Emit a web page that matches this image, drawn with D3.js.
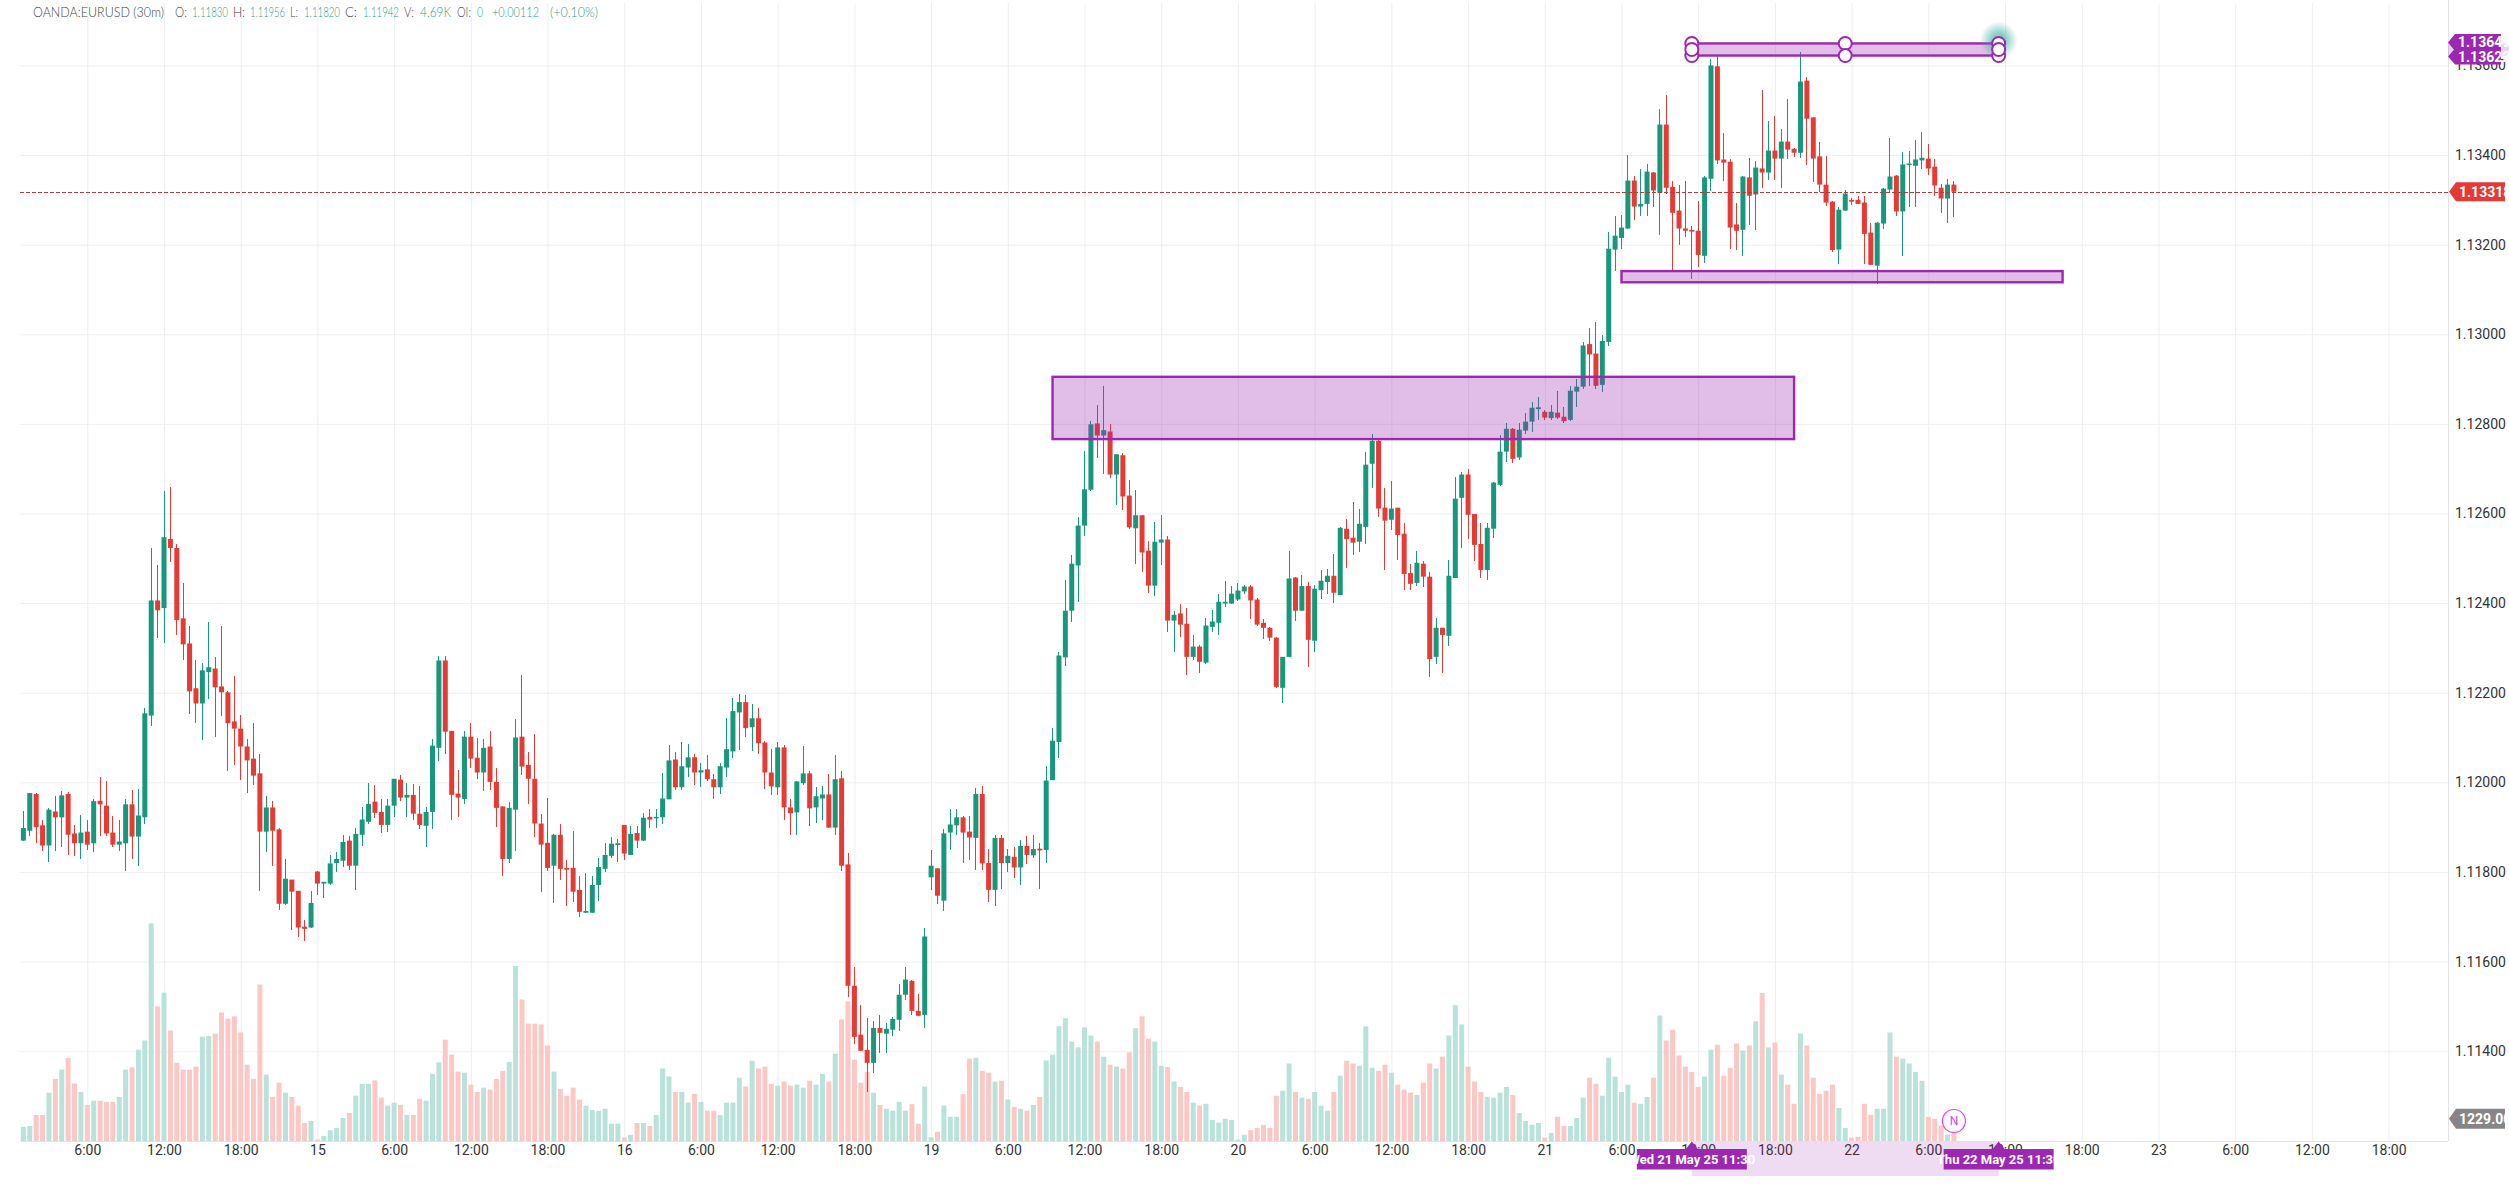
<!DOCTYPE html>
<html>
<head>
<meta charset="utf-8">
<script src="https://cdn.jsdelivr.net/npm/d3@7"></script>
<style>
  html, body { margin: 0; padding: 0; background: #fff; }
  svg { display: block; font-family: "Liberation Sans Narrow", Roboto, sans-serif; }
</style>
</head>
<body>
<svg id="chart" width="2509" height="1199"></svg>
<script>
// EURUSD 30m candles
var opens = [1.11870,1.11892,1.11974,1.11904,1.11859,1.11935,1.11922,1.11974,1.11886,1.11864,
1.11890,1.11864,1.11959,1.11948,1.11888,1.11861,1.11864,1.11951,1.11879,1.11922,
1.12149,1.12406,1.12389,1.12543,1.12523,1.12366,1.12310,1.12210,1.12176,1.12246,
1.12254,1.12214,1.12201,1.12136,1.12120,1.12080,1.12053,1.12020,1.11890,1.11944,
1.11895,1.11729,1.11783,1.11758,1.11678,1.11676,1.11801,1.11774,1.11774,1.11820,
1.11825,1.11870,1.11814,1.11883,1.11912,1.11957,1.11934,1.11905,1.11948,1.12006,
1.11966,1.11972,1.11930,1.11903,1.11934,1.12077,1.12272,1.12115,1.11975,1.11963,
1.12102,1.12055,1.12022,1.12080,1.12001,1.11946,1.11829,1.11939,1.12102,1.12039,
1.12008,1.11908,1.11865,1.11814,1.11883,1.11809,1.11809,1.11760,1.11709,1.11709,
1.11771,1.11807,1.11836,1.11860,1.11905,1.11838,1.11887,1.11870,1.11923,1.11920,
1.11922,1.11962,1.12051,1.11989,1.12033,1.12056,1.12022,1.12029,1.12007,1.11989,
1.12033,1.12069,1.12156,1.12179,1.12123,1.12143,1.12089,1.12022,1.11989,1.12078,
1.11944,1.11933,1.11998,1.12020,1.11944,1.11964,1.11973,1.11899,1.12009,1.11817,
1.11546,1.11437,1.11403,1.11374,1.11452,1.11439,1.11448,1.11470,1.11526,1.11557,
1.11490,1.11481,1.11788,1.11808,1.11736,1.11888,1.11904,1.11922,1.11890,1.11876,
1.11974,1.11820,1.11760,1.11876,1.11820,1.11834,1.11810,1.11858,1.11837,1.11852,
1.11849,1.12005,1.12090,1.12279,1.12383,1.12484,1.12573,1.12653,1.12801,1.12774,
1.12783,1.12687,1.12730,1.12640,1.12567,1.12596,1.12517,1.12439,1.12535,1.12542,
1.12361,1.12377,1.12354,1.12280,1.12303,1.12267,1.12347,1.12356,1.12399,1.12399,
1.12408,1.12426,1.12437,1.12408,1.12356,1.12345,1.12323,1.12211,1.12280,1.12457,
1.12383,1.12438,1.12316,1.12429,1.12447,1.12461,1.12418,1.12566,1.12546,1.12537,
1.12570,1.12711,1.12762,1.12613,1.12586,1.12613,1.12555,1.12467,1.12445,1.12488,
1.12459,1.12280,1.12345,1.12327,1.12456,1.12635,1.12687,1.12599,1.12532,1.12474,
1.12566,1.12664,1.12738,1.12789,1.12725,1.12785,1.12805,1.12833,1.12827,1.12813,
1.12825,1.12816,1.12809,1.12872,1.12883,1.12978,1.12957,1.12887,1.12983,1.13189,
1.13215,1.13236,1.13343,1.13285,1.13291,1.13361,1.13316,1.13468,1.13329,1.13276,
1.13236,1.13233,1.13231,1.13175,1.13347,1.13598,1.13390,1.13385,1.13245,1.13233,
1.13350,1.13312,1.13370,1.13361,1.13410,1.13392,1.13430,1.13414,1.13405,1.13566,
1.13484,1.13397,1.13334,1.13296,1.13189,1.13276,1.13300,1.13300,1.13294,1.13227,
1.13153,1.13247,1.13323,1.13354,1.13274,1.13378,1.13376,1.13388,1.13392,1.13374,
1.13327,1.13303,1.13334];

var highs = [1.11937,1.11976,1.11976,1.11915,1.11943,1.11970,1.11980,1.11978,1.11905,1.11927,
1.11915,1.11963,1.12012,1.12003,1.11926,1.11915,1.11963,1.11983,1.11986,1.12167,
1.12522,1.12486,1.12651,1.12660,1.12531,1.12445,1.12350,1.12274,1.12267,1.12357,
1.12280,1.12350,1.12204,1.12238,1.12151,1.12097,1.12133,1.12064,1.11969,1.11958,
1.11898,1.11829,1.11783,1.11758,1.11693,1.11758,1.11803,1.11778,1.11838,1.11844,
1.11882,1.11880,1.11899,1.11944,1.11998,1.11994,1.11962,1.11962,1.12008,1.12017,
1.11998,1.11996,1.11992,1.11946,1.12097,1.12282,1.12281,1.12115,1.12028,1.12115,
1.12133,1.12099,1.12097,1.12115,1.12032,1.11948,1.11956,1.12142,1.12240,1.12068,
1.12108,1.11929,1.11966,1.11885,1.11907,1.11826,1.11892,1.11791,1.11797,1.11791,
1.11832,1.11864,1.11877,1.11873,1.11905,1.11902,1.11902,1.11932,1.11940,1.11941,
1.12021,1.12084,1.12068,1.12089,1.12086,1.12064,1.12043,1.12060,1.12018,1.12043,
1.12144,1.12189,1.12197,1.12194,1.12174,1.12167,1.12092,1.12075,1.12090,1.12083,
1.11963,1.12002,1.12082,1.12025,1.11989,1.11992,1.12019,1.12060,1.12026,1.11842,
1.11587,1.11502,1.11475,1.11467,1.11481,1.11464,1.11477,1.11551,1.11587,1.11560,
1.11528,1.11674,1.11849,1.11809,1.11896,1.11941,1.11941,1.11925,1.11924,1.11987,
1.11991,1.11851,1.11883,1.11883,1.11851,1.11855,1.11872,1.11881,1.11882,1.11864,
1.12036,1.12122,1.12292,1.12452,1.12507,1.12592,1.12739,1.12806,1.12843,1.12884,
1.12800,1.12732,1.12735,1.12675,1.12653,1.12596,1.12538,1.12581,1.12597,1.12550,
1.12382,1.12398,1.12389,1.12329,1.12307,1.12367,1.12385,1.12420,1.12450,1.12438,
1.12445,1.12441,1.12441,1.12412,1.12365,1.12347,1.12324,1.12280,1.12516,1.12458,
1.12462,1.12448,1.12441,1.12473,1.12476,1.12509,1.12570,1.12587,1.12625,1.12610,
1.12737,1.12777,1.12764,1.12658,1.12672,1.12613,1.12578,1.12487,1.12516,1.12494,
1.12470,1.12366,1.12345,1.12496,1.12681,1.12692,1.12699,1.12599,1.12578,1.12578,
1.12671,1.12775,1.12803,1.12791,1.12801,1.12824,1.12849,1.12859,1.12831,1.12842,
1.12873,1.12838,1.12884,1.12900,1.12982,1.13014,1.13027,1.12999,1.13228,1.13265,
1.13267,1.13400,1.13353,1.13369,1.13380,1.13362,1.13503,1.13534,1.13342,1.13332,
1.13342,1.13241,1.13297,1.13353,1.13615,1.13622,1.13449,1.13390,1.13293,1.13353,
1.13394,1.13386,1.13546,1.13475,1.13487,1.13457,1.13525,1.13416,1.13630,1.13575,
1.13485,1.13429,1.13397,1.13297,1.13284,1.13322,1.13304,1.13308,1.13308,1.13248,
1.13250,1.13326,1.13437,1.13356,1.13407,1.13408,1.13434,1.13451,1.13425,1.13391,
1.13336,1.13347,1.13342];

var lows = [1.11870,1.11881,1.11864,1.11846,1.11822,1.11846,1.11855,1.11837,1.11835,1.11829,
1.11848,1.11844,1.11881,1.11880,1.11855,1.11846,1.11803,1.11829,1.11813,1.11907,
1.12126,1.12323,1.12312,1.12492,1.12329,1.12274,1.12153,1.12133,1.12095,1.12187,
1.12101,1.12149,1.12026,1.12039,1.12006,1.11977,1.11994,1.11758,1.11844,1.11813,
1.11715,1.11727,1.11670,1.11655,1.11647,1.11676,1.11749,1.11742,1.11771,1.11801,
1.11810,1.11804,1.11759,1.11858,1.11907,1.11920,1.11888,1.11890,1.11923,1.11958,
1.11922,1.11917,1.11895,1.11855,1.11895,1.12047,1.12063,1.11916,1.11923,1.11952,
1.12033,1.12007,1.11981,1.11983,1.11901,1.11792,1.11819,1.11846,1.12016,1.11952,
1.11877,1.11756,1.11803,1.11731,1.11782,1.11724,1.11732,1.11700,1.11709,1.11709,
1.11735,1.11801,1.11832,1.11823,1.11826,1.11838,1.11853,1.11870,1.11897,1.11899,
1.11908,1.11962,1.11984,1.11984,1.12012,1.11994,1.11989,1.12003,1.11963,1.11975,
1.12012,1.12055,1.12073,1.12101,1.12071,1.12064,1.11985,1.11972,1.11972,1.11916,
1.11883,1.11883,1.11994,1.11903,1.11910,1.11916,1.11899,1.11883,1.11803,1.11520,
1.11416,1.11401,1.11309,1.11352,1.11397,1.11396,1.11433,1.11446,1.11514,1.11480,
1.11479,1.11452,1.11760,1.11729,1.11713,1.11849,1.11883,1.11820,1.11827,1.11804,
1.11804,1.11732,1.11723,1.11761,1.11800,1.11787,1.11770,1.11817,1.11832,1.11761,
1.11819,1.12005,1.12055,1.12260,1.12358,1.12402,1.12549,1.12650,1.12724,1.12689,
1.12679,1.12619,1.12608,1.12565,1.12488,1.12469,1.12423,1.12416,1.12485,1.12335,
1.12290,1.12324,1.12239,1.12273,1.12245,1.12264,1.12335,1.12329,1.12392,1.12399,
1.12404,1.12420,1.12365,1.12350,1.12320,1.12315,1.12210,1.12178,1.12280,1.12361,
1.12383,1.12258,1.12292,1.12409,1.12421,1.12401,1.12418,1.12478,1.12507,1.12513,
1.12532,1.12658,1.12593,1.12475,1.12564,1.12497,1.12430,1.12430,1.12439,1.12436,
1.12234,1.12265,1.12245,1.12305,1.12455,1.12524,1.12544,1.12493,1.12455,1.12451,
1.12546,1.12661,1.12714,1.12712,1.12719,1.12777,1.12781,1.12809,1.12809,1.12809,
1.12810,1.12803,1.12806,1.12837,1.12877,1.12885,1.12877,1.12872,1.12974,1.13142,
1.13190,1.13236,1.13256,1.13265,1.13265,1.13285,1.13221,1.13313,1.13142,1.13199,
1.13218,1.13123,1.13149,1.13160,1.13319,1.13379,1.13341,1.13190,1.13188,1.13174,
1.13243,1.13232,1.13326,1.13344,1.13345,1.13326,1.13391,1.13396,1.13394,1.13378,
1.13339,1.13318,1.13286,1.13184,1.13157,1.13276,1.13288,1.13290,1.13157,1.13155,
1.13112,1.13236,1.13318,1.13263,1.13174,1.13285,1.13285,1.13369,1.13355,1.13309,
1.13271,1.13248,1.13262];

var closes = [1.11898,1.11976,1.11900,1.11859,1.11939,1.11922,1.11971,1.11883,1.11864,1.11888,
1.11861,1.11958,1.11951,1.11886,1.11861,1.11868,1.11951,1.11879,1.11926,1.12154,
1.12406,1.12384,1.12547,1.12523,1.12362,1.12308,1.12203,1.12176,1.12250,1.12257,
1.12212,1.12201,1.12132,1.12120,1.12080,1.12049,1.12015,1.11890,1.11944,1.11892,
1.11729,1.11785,1.11756,1.11676,1.11673,1.11731,1.11774,1.11778,1.11819,1.11829,
1.11867,1.11814,1.11885,1.11917,1.11952,1.11932,1.11905,1.11948,1.12008,1.11966,
1.11972,1.11930,1.11905,1.11934,1.12082,1.12272,1.12113,1.11972,1.11966,1.12102,
1.12053,1.12022,1.12077,1.12001,1.11943,1.11829,1.11943,1.12100,1.12035,1.12008,
1.11908,1.11861,1.11809,1.11883,1.11807,1.11805,1.11756,1.11711,1.11713,1.11771,
1.11811,1.11838,1.11863,1.11864,1.11841,1.11885,1.11870,1.11921,1.11917,1.11923,
1.11964,1.12049,1.11989,1.12036,1.12056,1.12022,1.12027,1.12007,1.11989,1.12036,
1.12074,1.12159,1.12179,1.12121,1.12143,1.12087,1.12022,1.11991,1.12078,1.11944,
1.11931,1.12002,1.12020,1.11942,1.11969,1.11973,1.11899,1.12007,1.11814,1.11546,
1.11432,1.11401,1.11374,1.11452,1.11441,1.11450,1.11472,1.11526,1.11560,1.11490,
1.11479,1.11656,1.11814,1.11747,1.11886,1.11906,1.11922,1.11888,1.11877,1.11974,
1.11819,1.11760,1.11876,1.11820,1.11836,1.11810,1.11858,1.11838,1.11851,1.11848,
1.12004,1.12093,1.12283,1.12383,1.12488,1.12573,1.12654,1.12799,1.12774,1.12786,
1.12687,1.12732,1.12638,1.12569,1.12596,1.12513,1.12439,1.12537,1.12542,1.12361,
1.12374,1.12352,1.12280,1.12303,1.12269,1.12350,1.12359,1.12403,1.12403,1.12421,
1.12428,1.12437,1.12406,1.12352,1.12345,1.12323,1.12213,1.12280,1.12455,1.12383,
1.12438,1.12318,1.12432,1.12450,1.12461,1.12423,1.12568,1.12543,1.12535,1.12577,
1.12709,1.12762,1.12611,1.12584,1.12611,1.12552,1.12465,1.12443,1.12490,1.12459,
1.12275,1.12345,1.12329,1.12461,1.12633,1.12687,1.12597,1.12530,1.12474,1.12568,
1.12669,1.12738,1.12789,1.12722,1.12787,1.12805,1.12836,1.12837,1.12814,1.12827,
1.12814,1.12806,1.12874,1.12883,1.12975,1.12955,1.12885,1.12985,1.13191,1.13220,
1.13238,1.13343,1.13285,1.13291,1.13363,1.13321,1.13468,1.13327,1.13271,1.13236,
1.13231,1.13229,1.13177,1.13350,1.13600,1.13388,1.13383,1.13238,1.13231,1.13352,
1.13309,1.13372,1.13361,1.13410,1.13392,1.13430,1.13412,1.13405,1.13564,1.13481,
1.13392,1.13334,1.13294,1.13188,1.13278,1.13314,1.13296,1.13291,1.13224,1.13155,
1.13249,1.13325,1.13352,1.13274,1.13379,1.13381,1.13390,1.13394,1.13370,1.13332,
1.13303,1.13334,1.13318];

var volumes = [825,870,1516,1516,2810,3613,4148,4817,3345,2854,
2096,2342,2342,2275,2275,2565,4148,4282,5307,5843,
12644,7827,8630,6422,4549,4148,4148,4326,6066,6110,
6244,7470,7114,7248,6311,4438,3613,9098,3858,2565,
3390,2810,2565,2052,1048,1160,89,290,624,758,
1338,1628,2631,3323,3323,3523,2520,2052,2230,2096,
1516,1516,2453,2342,3903,4572,5887,5018,4036,3969,
3278,2854,3100,2988,3613,4081,4594,10169,8229,6824,
6824,6779,5553,4036,3033,2631,3100,2408,2052,1806,
1762,1873,1004,1004,201,357,1048,1048,870,1516,
4215,3746,2854,2854,2230,2743,2275,1762,1762,1516,
2230,2230,3680,3167,4661,4215,4326,3323,3211,3457,
3211,3278,3100,3501,3278,3903,3457,5084,7069,8117,
4728,3390,4014,2810,2096,1873,1762,2275,1762,2141,
1004,3167,223,535,2052,1405,1405,2721,4795,4839,
4081,3969,3457,3501,2408,1985,1873,1762,2096,2565,
4683,5018,6668,7136,5776,5441,6601,6133,5776,4906,
4438,4326,4215,5151,6556,7248,5954,5776,4371,4304,
3457,3144,2854,2230,2052,2163,1227,1070,1293,1227,
89,357,624,758,937,758,2631,2921,4505,2854,
2520,2453,2854,2052,1762,2854,3791,4661,4505,4371,
6668,4259,4081,4438,3969,3278,2988,2810,2676,3390,
4505,4215,4906,6133,7894,6779,4326,3457,2854,2565,
2520,2810,3144,2676,1628,1160,937,1048,201,468,
1405,870,870,1338,2520,3680,3323,2631,4839,3746,
2854,3278,2230,2163,2565,3680,7292,5843,6467,4973,
4326,4014,3144,3746,5307,5597,3791,4259,5664,5263,
5553,6958,8608,5441,5731,3858,3278,2163,6244,5553,
3680,2743,2921,3278,1918,758,201,245,2163,1516,
1873,1873,6311,4906,4795,4505,4014,3501,1405,1293,
892,379,1229];

var priceTicks = [1.114,1.116,1.118,1.12,1.122,1.124,1.126,1.128,1.13,1.132,1.134,1.136];
var timeTicks = [10,22,34,46,58,70,82,94,106,118,130,142,154,166,178,190,202,214,226,238,250,262,274,286,298,310,322,334,346,358,370];
var timeLabels = ["6:00","12:00","18:00","15","6:00","12:00","18:00","16","6:00","12:00","18:00","19","6:00","12:00","18:00","20","6:00","12:00","18:00","21","6:00","12:00","18:00","22","6:00","12:00","18:00","23","6:00","12:00","18:00"];

// drawn rectangles: first bar, last bar, top price, bottom price
var zoneBars = [[161,277],[250,319],[261,309]];
var zonePrices = [[1.12905,1.12766],[1.13141,1.13116],[1.13649,1.13622]];

var legendTexts = ["OANDA:EURUSD (30m)","O:","1.11830","H:","1.11956","L:","1.11820","C:","1.11942","V:","4.69K","OI:","0","+0.00112","(+0.10%)"];
var lastPrice = 1.13318;
var lastVolume = 1229;

var UP = "#17987d", DOWN = "#e63b35", PURPLE = "#9c27b0";
var LEFT = 20, RIGHT = 2448, BOTTOM = 1141;
var LABEL_FONT = 14;

var svg = d3.select("#chart");

var x = d3.scaleLinear().domain([10,370]).range([87.3,2388.6]);
var y = d3.scaleLinear().domain([1.136,1.114]).range([65.4,1051.2]);
var v = d3.scaleLinear().domain([0,d3.max(volumes)]).range([BOTTOM,923.5]);

//grid
svg.append("g").attr("class","vgrid")
  .attr("transform","translate(0,"+BOTTOM+")")
  .call(d3.axisBottom(x).tickValues(timeTicks).tickSize(-(BOTTOM-3)).tickFormat(""))
  .call(function(g){ g.select(".domain").remove(); })
  .selectAll("line").attr("stroke","#eceef1");

svg.append("g").attr("class","hgrid")
  .attr("transform","translate("+RIGHT+",0)")
  .call(d3.axisLeft(y).tickValues(priceTicks).tickSize(RIGHT-LEFT).tickFormat(""))
  .call(function(g){ g.select(".domain").remove(); })
  .selectAll("line").attr("stroke","#eef0f2");

svg.append("line").attr("x1",LEFT).attr("x2",RIGHT).attr("y1",BOTTOM+0.5).attr("y2",BOTTOM+0.5).attr("stroke","#e0e3e8");
svg.append("line").attr("x1",RIGHT+0.5).attr("x2",RIGHT+0.5).attr("y1",0).attr("y2",BOTTOM).attr("stroke","#e0e3e8");

//volume
var isUp = function(i){ return closes[i] >= opens[i]; };

svg.append("g").selectAll("rect")
  .data(volumes)
  .enter()
  .append("rect")
  .attr("x",function(d,i){ return x(i)-2.5; })
  .attr("width",5)
  .attr("y",function(d){ return v(d); })
  .attr("height",function(d){ return BOTTOM-v(d); })
  .attr("fill",function(d,i){ return isUp(i) ? "#b9e2da" : "#fbc8c5"; });

//candles
var candles = svg.append("g").selectAll("g")
  .data(opens)
  .enter()
  .append("g");

candles.append("line")
  .attr("x1",function(d,i){ return x(i); })
  .attr("x2",function(d,i){ return x(i); })
  .attr("y1",function(d,i){ return y(highs[i]); })
  .attr("y2",function(d,i){ return y(lows[i]); })
  .attr("shape-rendering","crispEdges")
  .attr("stroke",function(d,i){ return isUp(i) ? UP : DOWN; });

candles.append("rect")
  .attr("x",function(d,i){ return x(i)-2.5; })
  .attr("width",5)
  .attr("y",function(d,i){ return y(Math.max(opens[i],closes[i])); })
  .attr("height",function(d,i){ return Math.max(1.5,Math.abs(y(opens[i])-y(closes[i]))); })
  .attr("fill",function(d,i){ return isUp(i) ? UP : DOWN; });

//last price line
svg.append("line")
  .attr("x1",LEFT).attr("x2",RIGHT)
  .attr("y1",Math.round(y(lastPrice))+0.5).attr("y2",Math.round(y(lastPrice))+0.5)
  .attr("stroke","#b33a35")
  .attr("stroke-dasharray","4,2");

//zones
svg.append("g").selectAll("rect")
  .data(zoneBars)
  .enter()
  .append("rect")
  .attr("x",function(d){ return x(d[0]); })
  .attr("width",function(d){ return x(d[1])-x(d[0]); })
  .attr("y",function(d,i){ return y(zonePrices[i][0]); })
  .attr("height",function(d,i){ return y(zonePrices[i][1])-y(zonePrices[i][0]); })
  .attr("fill","rgba(156,39,176,0.3)")
  .attr("stroke",PURPLE)
  .attr("stroke-width",2.4);

//glow on the hovered handle
var grad = svg.append("defs").append("radialGradient").attr("id","glow");
grad.append("stop").attr("offset","35%").attr("stop-color","#26a69a").attr("stop-opacity",0.55);
grad.append("stop").attr("offset","100%").attr("stop-color","#26a69a").attr("stop-opacity",0);
var sel = zoneBars[2], selP = zonePrices[2];
svg.append("circle").attr("cx",x(sel[1])).attr("cy",y(selP[0])-3).attr("r",19).attr("fill","url(#glow)");

//handles of the selected rectangle
var handles = [[sel[0],selP[0]],[sel[0],selP[1]],[sel[0],(selP[0]+selP[1])/2],
               [(sel[0]+sel[1])/2,selP[0]],[(sel[0]+sel[1])/2,selP[1]],
               [sel[1],selP[0]],[sel[1],selP[1]],[sel[1],(selP[0]+selP[1])/2]];
svg.append("g").selectAll("circle")
  .data(handles)
  .enter()
  .append("circle")
  .attr("cx",function(d){ return x(d[0]); })
  .attr("cy",function(d){ return y(d[1]); })
  .attr("r",6.5)
  .attr("fill","#fff")
  .attr("stroke",PURPLE)
  .attr("stroke-width",2);

//axes
var yAxis = svg.append("g")
  .attr("transform","translate(2455,0)")
  .call(d3.axisRight(y).tickValues(priceTicks).tickSize(0).tickPadding(0).tickFormat(d3.format(".5f")));
yAxis.select(".domain").remove();
yAxis.selectAll("text").attr("fill","#333").attr("font-size",LABEL_FONT).attr("font-family","Liberation Sans Narrow, Roboto");

var xAxis = svg.append("g")
  .attr("transform","translate(0,1145)")
  .call(d3.axisBottom(x).tickValues(timeTicks).tickSize(0).tickPadding(0)
    .tickFormat(function(d,i){ return timeLabels[i]; }));
xAxis.select(".domain").remove();
xAxis.selectAll("text").attr("fill","#333").attr("font-size",LABEL_FONT).attr("font-family","Liberation Sans Narrow, Roboto");

//legend line, squeezed into the widths of the original
var legendX = [33,175,192,233,250,290,304,345,363,404,420,457,477,492,550];
var legendW = [131,12,36,12,35,8,36,12,36,10,31,14,6,47,48];
svg.append("g").selectAll("text")
  .data(legendTexts)
  .enter()
  .append("text")
  .attr("x",function(d,i){ return legendX[i]; })
  .attr("y",17)
  .attr("font-family","Lato, sans-serif")
  .attr("font-weight",300)
  .attr("font-size",14)
  .attr("textLength",function(d,i){ return legendW[i]; })
  .attr("lengthAdjust","spacingAndGlyphs")
  .attr("fill",function(d,i){ return (i==0 || (i%2==1 && i<12)) ? "#444" : "#1f9e85"; })
  .text(function(d){ return d; });

//price tags on the right axis
var tag = function(py,h,w,fill,label,left){
  svg.append("path")
    .attr("d","M"+left+","+py+"l7,"+(-h/2)+"h"+w+"v"+h+"h"+(-w)+"z")
    .attr("fill",fill);
  svg.append("text")
    .attr("x",left+10).attr("y",py+5)
    .attr("font-size",LABEL_FONT).attr("font-weight",700).attr("fill","#fff")
    .text(label);
};
svg.append("rect").attr("x",RIGHT).attr("width",61)
  .attr("y",y(selP[0])).attr("height",y(selP[1])-y(selP[0]))
  .attr("fill","rgba(156,39,176,0.2)");
tag(y(lastPrice),19,49,"#e53935",d3.format(".5f")(lastPrice),2449);
tag(y(selP[1])+1,16,46,PURPLE,d3.format(".5f")(selP[1]),2448);
tag(y(selP[0])-1,17,46,PURPLE,d3.format(".5f")(selP[0]),2448);
tag(v(lastVolume)-1,20,49,"#868686",d3.format(".2f")(lastVolume),2449);

//time range selection under the axis
svg.append("rect")
  .attr("x",x(sel[0])).attr("width",x(sel[1])-x(sel[0]))
  .attr("y",BOTTOM+1).attr("height",34)
  .attr("fill","rgba(156,39,176,0.16)");

var dateTags = ["Wed 21 May 25 11:30","Thu 22 May 25 11:30"];
var dateBars = [sel[0],sel[1]];
dateBars.forEach(function(b,i){
  var cx = x(b);
  svg.append("path")
    .attr("d","M"+(cx-55)+",1149H"+(cx-6)+"L"+cx+",1141.5L"+(cx+6)+",1149H"+(cx+55)+"V1169.5H"+(cx-55)+"z")
    .attr("fill",PURPLE);
  svg.append("text")
    .attr("x",cx).attr("y",1164)
    .attr("text-anchor","middle")
    .attr("font-size",13).attr("font-weight",700).attr("fill","#fff")
    .text(dateTags[i]);
});

//news marker
svg.append("circle")
  .attr("cx",x(302)).attr("cy",1121).attr("r",11.5)
  .attr("fill","#fff").attr("stroke","#e040fb").attr("stroke-width",1.2);
svg.append("text")
  .attr("x",x(302)).attr("y",1125)
  .attr("text-anchor","middle").attr("font-size",12).attr("fill","#e040fb")
  .text("N");
</script>
</body>
</html>
